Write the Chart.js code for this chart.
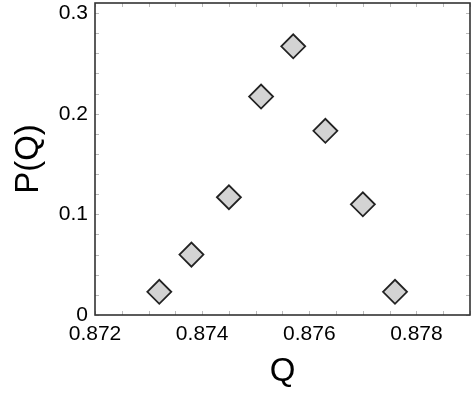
<!DOCTYPE html>
<html>
<head>
<meta charset="utf-8">
<script src="https://cdn.jsdelivr.net/npm/chart.js@4.4.0/dist/chart.umd.min.js"></script>
<style>
    html, body { margin: 0; padding: 0; background: #fff; }
    #wrap { width: 474px; height: 410px; }
</style>
</head>
<body>
<div id="wrap"><canvas id="pq"></canvas></div>
<script>
// ======================
// Data
// ======================
const qValues = [0.8732, 0.8738, 0.8745, 0.8751, 0.8757, 0.8763, 0.8770, 0.8776];
const pValues = [0.023, 0.060, 0.117, 0.217, 0.267, 0.183, 0.110, 0.023];

const xTicks = [0.872, 0.874, 0.876, 0.878];
const yTicks = [0, 0.1, 0.2, 0.3];

const xRange = [0.872, 0.879];
const yRange = [0, 0.31];

const xMinorStep = 0.0005;
const yMinorStep = 0.02;

// ======================
// Frame + inward ticks
// ======================
const frameTicks = {
    id: 'frameTicks',
    afterDraw(chart) {
        const { ctx, chartArea: a, scales: { x, y } } = chart;
        ctx.save();

        ctx.strokeStyle = '#bbb';
        ctx.lineWidth = 1;
        ctx.beginPath();
        for (let v = xRange[0]; v <= xRange[1] + 1e-9; v += xMinorStep) {
            const px = Math.round(x.getPixelForValue(v)) + 0.5;
            ctx.moveTo(px, a.bottom); ctx.lineTo(px, a.bottom - 4);
            ctx.moveTo(px, a.top); ctx.lineTo(px, a.top + 4);
        }
        for (let v = yRange[0]; v <= yRange[1] + 1e-9; v += yMinorStep) {
            const py = Math.round(y.getPixelForValue(v)) + 0.5;
            ctx.moveTo(a.left, py); ctx.lineTo(a.left + 4, py);
            ctx.moveTo(a.right, py); ctx.lineTo(a.right - 4, py);
        }
        ctx.stroke();

        ctx.strokeStyle = '#333';
        ctx.lineWidth = 1.6;
        ctx.strokeRect(a.left, a.top, a.right - a.left, a.bottom - a.top);
        ctx.restore();
    }
};

const tickFont = { family: '"Liberation Sans", Arial, sans-serif', size: 21 };
const titleFont = { family: '"Liberation Sans", Arial, sans-serif', size: 33 };

new Chart(document.getElementById('pq'), {
    type: 'scatter',
    data: {
        datasets: [{
            data: qValues.map((q, i) => ({ x: q, y: pValues[i] })),
            pointStyle: 'rectRot',
            pointRadius: 12,
            pointHoverRadius: 12,
            backgroundColor: '#d3d3d3',
            borderColor: '#222',
            borderWidth: 1.8
        }]
    },
    options: {
        responsive: true,
        maintainAspectRatio: false,
        animation: false,
        layout: {
            autoPadding: false,
            padding: { left: 0, right: 4, top: 3, bottom: 18 }
        },
        plugins: {
            legend: { display: false },
            tooltip: { enabled: false }
        },
        scales: {
            x: {
                type: 'linear',
                min: xRange[0],
                max: xRange[1],
                afterBuildTicks: (s) => { s.ticks = xTicks.map(v => ({ value: v })); },
                afterFit: (s) => {
                    s.height = 77;
                    s.paddingLeft = 0;
                    s.paddingRight = 0;
                },
                grid: { display: false, drawTicks: false },
                border: { display: false },
                ticks: {
                    color: '#000',
                    font: tickFont,
                    padding: 7,
                    maxRotation: 0,
                    callback: (v) => v.toFixed(3)
                },
                title: {
                    display: true,
                    text: 'Q',
                    color: '#000',
                    font: titleFont,
                    padding: { top: 0, bottom: 0 }
                }
            },
            y: {
                type: 'linear',
                min: yRange[0],
                max: yRange[1],
                afterBuildTicks: (s) => { s.ticks = yTicks.map(v => ({ value: v })); },
                afterFit: (s) => {
                    s.width = 95;
                    s.paddingTop = 0;
                    s.paddingBottom = 0;
                },
                grid: { display: false, drawTicks: false },
                border: { display: false },
                ticks: {
                    color: '#000',
                    font: tickFont,
                    padding: 7,
                    callback: (v) => v === 0 ? '0' : String(+v.toFixed(1))
                },
                title: {
                    display: true,
                    text: 'P(Q)',
                    color: '#000',
                    font: titleFont,
                    padding: { top: 9, bottom: 0 }
                }
            }
        }
    },
    plugins: [frameTicks]
});
</script>
</body>
</html>
